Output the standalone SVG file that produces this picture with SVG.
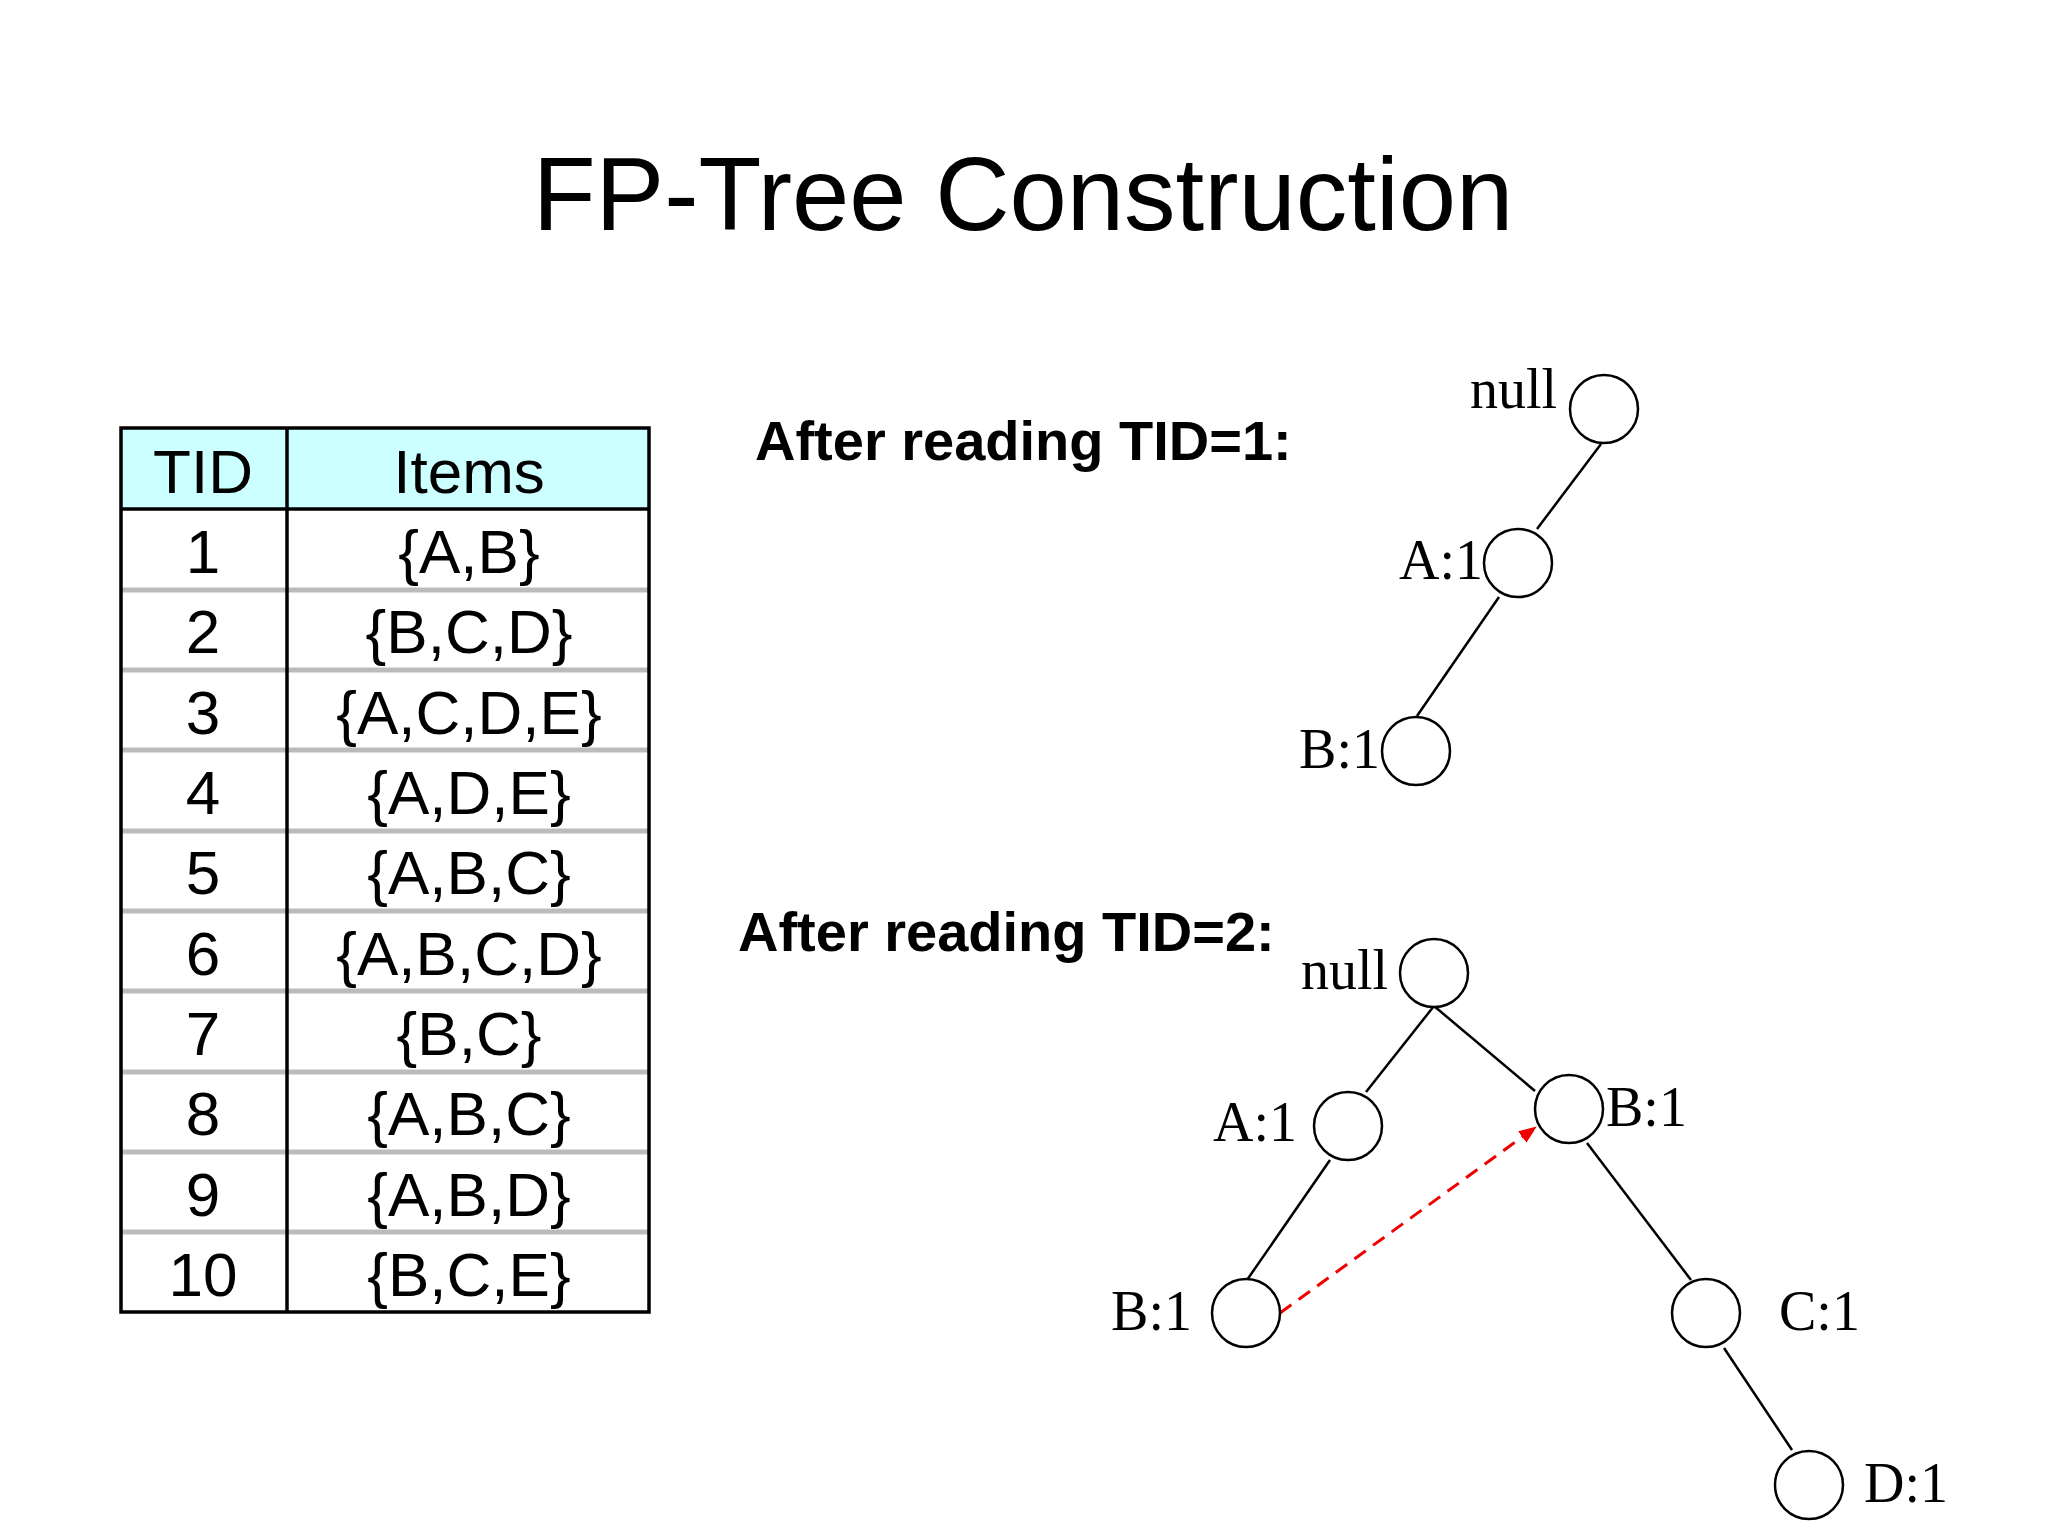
<svg xmlns="http://www.w3.org/2000/svg" width="2048" height="1536" viewBox="0 0 2048 1536">
<style>
.t{font-family:"Liberation Sans",Arial,sans-serif;font-size:62px;text-anchor:middle;fill:#000}
.s{font-family:"Liberation Serif","Times New Roman",serif;font-size:56px;fill:#000}
.h{font-family:"Liberation Sans",Arial,sans-serif;font-size:56px;font-weight:bold;fill:#000}
.n{fill:#fff;stroke:#000;stroke-width:2.5}
.e{stroke:#000;stroke-width:2.5}
.sep{stroke:#bbb;stroke-width:5}
</style>
<defs><marker id="ar" markerWidth="18" markerHeight="14" refX="17" refY="7" orient="auto" markerUnits="userSpaceOnUse" viewBox="0 0 18 14"><path d="M0,0L18,7L0,14z" fill="#e00"/></marker></defs>
<rect width="2048" height="1536" fill="#fff"/>
<text x="1023" y="230" font-family="Liberation Sans,Arial,sans-serif" font-size="103" text-anchor="middle">FP-Tree Construction</text>
<g id="table">
<rect x="121" y="428" width="528" height="81" fill="#ccffff"/>
<g class="sep">
<line x1="121" y1="590" x2="649" y2="590"/><line x1="121" y1="670" x2="649" y2="670"/><line x1="121" y1="750" x2="649" y2="750"/><line x1="121" y1="831" x2="649" y2="831"/><line x1="121" y1="911" x2="649" y2="911"/><line x1="121" y1="991" x2="649" y2="991"/><line x1="121" y1="1072" x2="649" y2="1072"/><line x1="121" y1="1152" x2="649" y2="1152"/><line x1="121" y1="1232" x2="649" y2="1232"/>
</g>
<rect x="121" y="428" width="528" height="884" fill="none" stroke="#000" stroke-width="3.5"/>
<line x1="121" y1="509" x2="649" y2="509" stroke="#000" stroke-width="3.5"/>
<line x1="287" y1="428" x2="287" y2="1312" stroke="#000" stroke-width="3.5"/>
<text class="t" x="203" y="493">TID</text><text class="t" x="469" y="493">Items</text>
<text class="t" x="203" y="573">1</text><text class="t" x="469" y="573">{A,B}</text>
<text class="t" x="203" y="653">2</text><text class="t" x="469" y="653">{B,C,D}</text>
<text class="t" x="203" y="734">3</text><text class="t" x="469" y="734">{A,C,D,E}</text>
<text class="t" x="203" y="814">4</text><text class="t" x="469" y="814">{A,D,E}</text>
<text class="t" x="203" y="894">5</text><text class="t" x="469" y="894">{A,B,C}</text>
<text class="t" x="203" y="975">6</text><text class="t" x="469" y="975">{A,B,C,D}</text>
<text class="t" x="203" y="1055">7</text><text class="t" x="469" y="1055">{B,C}</text>
<text class="t" x="203" y="1135">8</text><text class="t" x="469" y="1135">{A,B,C}</text>
<text class="t" x="203" y="1216">9</text><text class="t" x="469" y="1216">{A,B,D}</text>
<text class="t" x="203" y="1296">10</text><text class="t" x="469" y="1296">{B,C,E}</text>
</g>
<text class="h" x="755" y="460">After reading TID=1:</text>
<text class="h" x="738" y="951">After reading TID=2:</text>
<g id="connectors">
<line class="e" x1="1601" y1="444" x2="1537" y2="529"/>
<line class="e" x1="1499" y1="597" x2="1417" y2="716"/>
<line class="e" x1="1434" y1="1006" x2="1366" y2="1092"/>
<line class="e" x1="1434" y1="1006" x2="1535" y2="1091"/>
<line class="e" x1="1330" y1="1160" x2="1247" y2="1280"/>
<line class="e" x1="1587" y1="1143" x2="1691" y2="1280"/>
<line class="e" x1="1724" y1="1348" x2="1792" y2="1450"/>
<line x1="1280" y1="1313" x2="1536" y2="1127" stroke="#e00" stroke-width="3" stroke-dasharray="14,9" marker-end="url(#ar)"/>
</g>
<g id="t1-null"><circle class="n" cx="1604" cy="409" r="34"/><text class="s" x="1557" y="408" text-anchor="end">null</text></g>
<g id="t1-a"><circle class="n" cx="1518" cy="563" r="34"/><text class="s" x="1483" y="579" text-anchor="end">A:1</text></g>
<g id="t1-b"><circle class="n" cx="1416" cy="751" r="34"/><text class="s" x="1380" y="768" text-anchor="end">B:1</text></g>
<g id="t2-null"><circle class="n" cx="1434" cy="973" r="34"/><text class="s" x="1388" y="989" text-anchor="end">null</text></g>
<g id="t2-a"><circle class="n" cx="1348" cy="1126" r="34"/><text class="s" x="1297" y="1141" text-anchor="end">A:1</text></g>
<g id="t2-b1"><circle class="n" cx="1246" cy="1313" r="34"/><text class="s" x="1192" y="1330" text-anchor="end">B:1</text></g>
<g id="t2-b2"><circle class="n" cx="1569" cy="1109" r="34"/><text class="s" x="1606" y="1126">B:1</text></g>
<g id="t2-c"><circle class="n" cx="1706" cy="1313" r="34"/><text class="s" x="1779" y="1330">C:1</text></g>
<g id="t2-d"><circle class="n" cx="1809" cy="1485" r="34"/><text class="s" x="1864" y="1502">D:1</text></g>
</svg>
